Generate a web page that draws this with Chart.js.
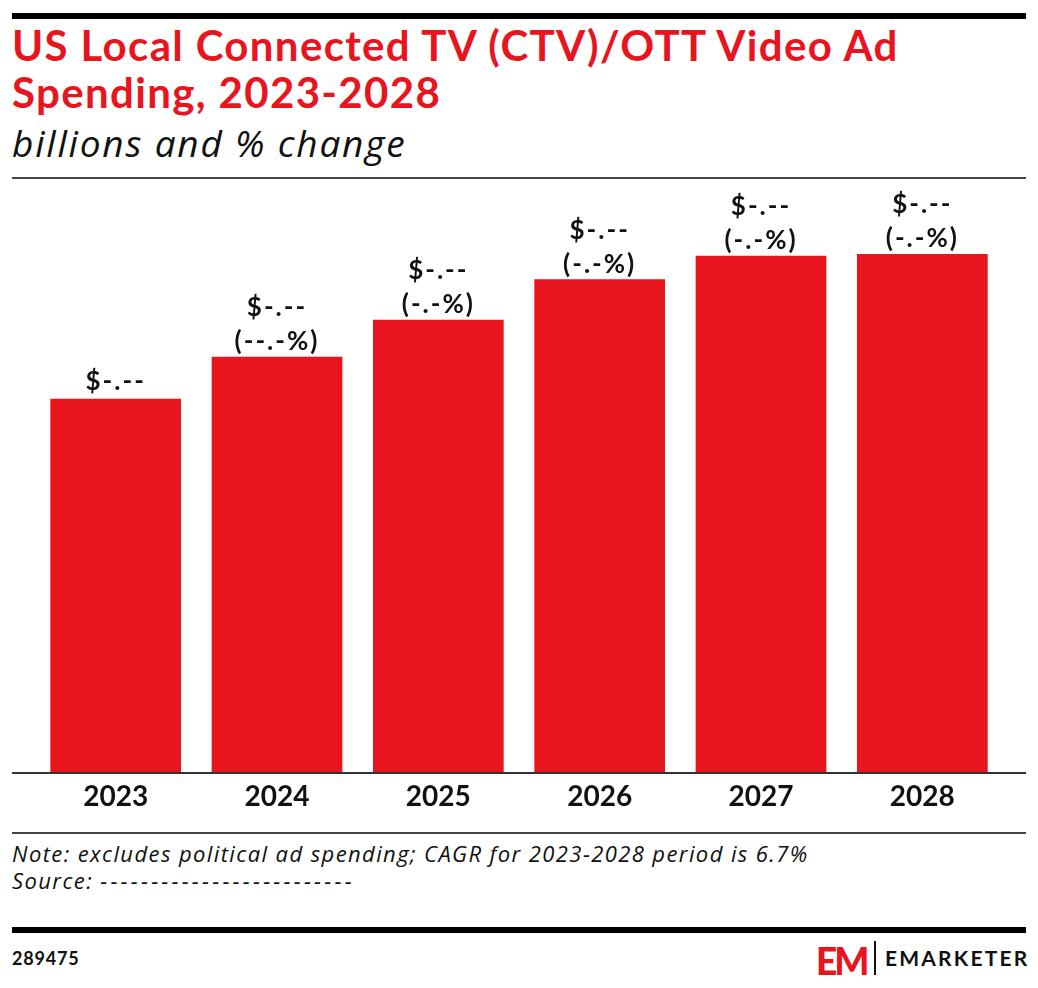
<!DOCTYPE html>
<html>
<head>
<meta charset="utf-8">
<script src="https://cdn.jsdelivr.net/npm/chart.js@4/dist/chart.umd.min.js"></script>
<style>
  body{margin:0;width:1038px;height:988px;background:#fff;position:relative;font-family:Lato,"Open Sans",sans-serif;overflow:hidden;}
  .abs{position:absolute;}
  #title{left:12px;top:22px;font-weight:bold;font-size:42px;line-height:47px;letter-spacing:1.35px;color:#e8141e;white-space:nowrap;}
  #sub{left:12px;top:122px;font-family:"Open Sans",sans-serif;font-style:italic;font-size:37px;line-height:42px;letter-spacing:1.8px;color:#111;}
  #note{left:12px;top:840px;font-family:"Open Sans",sans-serif;font-style:italic;font-size:22px;line-height:27px;letter-spacing:1.4px;color:#111;white-space:nowrap;}
  #note .dash{letter-spacing:3.3px;}
  #cid{left:12px;top:947px;font-weight:bold;font-size:18px;letter-spacing:0.8px;color:#111;}
  #em{left:816px;top:938px;font-weight:900;font-size:37px;color:#e8141e;letter-spacing:-3px;}
  #brand{left:885px;top:945px;font-weight:bold;font-size:21px;color:#111;letter-spacing:2.2px;}
</style>
</head>
<body>
<div class="abs" style="left:12px;top:13px;width:1014px;height:6px;background:#000"></div>
<div id="title" class="abs">US Local Connected TV (CTV)/OTT Video Ad<br>Spending, 2023-2028</div>
<div id="sub" class="abs">billions and % change</div>
<div class="abs" style="left:12px;top:177px;width:1014px;height:2px;background:#444"></div>
<div class="abs" style="left:12px;top:180px;width:1014px;height:642px">
  <canvas id="myBarChart" width="1014" height="642"></canvas>
</div>
<div class="abs" style="left:12px;top:832px;width:1014px;height:2px;background:#444"></div>
<div id="note" class="abs">Note: excludes political ad spending; CAGR for 2023-2028 period is 6.7%<br>Source: <span class="dash">-------------------------</span></div>
<div class="abs" style="left:12px;top:927px;width:1014px;height:6px;background:#000"></div>
<div id="cid" class="abs">289475</div>
<div id="em" class="abs">EM</div>
<div class="abs" style="left:874px;top:941px;width:2px;height:34px;background:#111"></div>
<div id="brand" class="abs">EMARKETER</div>

<script>
var years=['2023','2024','2025','2026','2027','2028'];
var spending=[2.22,2.47,2.69,2.93,3.07,3.08];
var spendLabels=['$-.--','$-.--','$-.--','$-.--','$-.--','$-.--'];
var changeLabels=['','(--.-%)','(-.-%)','(-.-%)','(-.-%)','(-.-%)'];

var barLabels={
  id:'barLabels',
  afterDatasetsDraw:function(chart){
    var ctx=chart.ctx;
    var meta=chart.getDatasetMeta(0);
    ctx.save();
    // axis line runs the full width
    ctx.strokeStyle='#333';
    ctx.lineWidth=2;
    ctx.beginPath();
    ctx.moveTo(0,chart.chartArea.bottom+0.5);
    ctx.lineTo(chart.width,chart.chartArea.bottom+0.5);
    ctx.stroke();
    ctx.fillStyle='#111';
    ctx.font='bold 26px Lato, "Open Sans", sans-serif';
    ctx.letterSpacing='2px';
    ctx.textAlign='center';
    ctx.textBaseline='middle';
    for(var i=0;i<meta.data.length;i++){
      var bar=meta.data[i];
      if(changeLabels[i]){
        ctx.fillText(changeLabels[i],bar.x,bar.y-15);
        ctx.fillText(spendLabels[i],bar.x,bar.y-49);
      }else{
        ctx.fillText(spendLabels[i],bar.x,bar.y-17);
      }
    }
    ctx.restore();
  }
};

var ctx=document.getElementById('myBarChart');
var barGraph=new Chart(ctx,{
  type:'bar',
  data:{
    labels:years,
    datasets:[{
      data:spending,
      backgroundColor:'#e8141e',
      borderWidth:0,
      barPercentage:0.81,
      categoryPercentage:1.0
    }]
  },
  options:{
    responsive:false,
    animation:false,
    devicePixelRatio:1,
    layout:{padding:{left:23,right:23,top:0,bottom:0}},
    plugins:{legend:{display:false},tooltip:{enabled:false}},
    scales:{
      y:{display:false,min:0,max:3.52},
      x:{
        grid:{display:false,drawTicks:false},
        border:{display:false},
        ticks:{color:'#111',padding:8,font:{family:'Lato, "Open Sans", sans-serif',size:28,weight:'bold'}}
      }
    }
  },
  plugins:[barLabels]
});
</script>
</body>
</html>
